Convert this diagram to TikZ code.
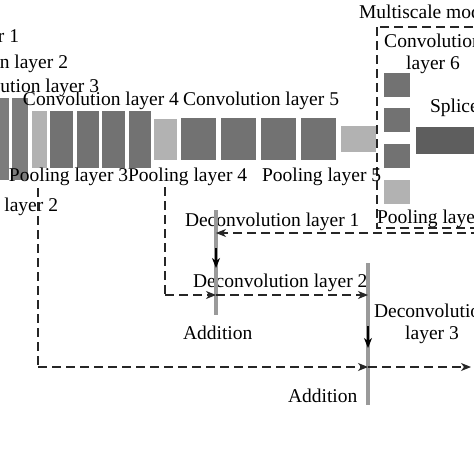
\documentclass[tikz,border=0pt]{standalone}
\usepackage{fontspec}
\setmainfont{Liberation Serif}
\usetikzlibrary{arrows.meta,calc}
\definecolor{convgray}{HTML}{727272}
\definecolor{convgrayb}{HTML}{7C7C7C}
\definecolor{poolgray}{HTML}{B2B2B2}
\definecolor{splicegray}{HTML}{5E5E5E}
\definecolor{bargray}{HTML}{9A9A9A}
\begin{document}
\begin{tikzpicture}[x=1pt,y=-1pt,
  blk/.style={draw=none, inner sep=0, outer sep=0},
  dark/.style={blk, fill=convgray},
  darkb/.style={blk, fill=convgrayb},
  light/.style={blk, fill=poolgray},
  splice/.style={blk, fill=splicegray},
  lbl/.style={inner sep=0, outer sep=0, font=\fontsize{19.5}{22}\selectfont},
  dline/.style={dash pattern=on 9pt off 5pt, line width=1.1pt, black!85},
  darr/.style={dline, -{Stealth[length=10pt,width=8pt,inset=3pt]}},
  sarr/.style={line width=1.2pt, black, -{Stealth[length=10pt,width=8pt,inset=3pt]}},
  bar/.style={fill=bargray, draw=none, inner sep=0, outer sep=0, minimum width=3.5pt}]
\clip (0,0) rectangle (474,474);
\fill[white] (0,0) rectangle (474,474);

% blocks
\node[darkb, minimum width=19pt, minimum height=82pt] (c2a) at (-0.5,139) {};
\node[darkb, minimum width=16pt, minimum height=82pt] (c2b) at (20,139) {};
\node[light, minimum width=15pt, minimum height=57pt] (p2) at (39.5,139.5) {};
\node[dark, minimum width=23pt, minimum height=57pt] (c3a) at (61.5,139.5) {};
\node[dark, minimum width=22pt, minimum height=57pt] (c3b) at (88,139.5) {};
\node[dark, minimum width=23pt, minimum height=57pt] (c3c) at (113.5,139.5) {};
\node[dark, minimum width=22pt, minimum height=57pt] (c3d) at (140,139.5) {};
\node[light, minimum width=23pt, minimum height=41pt] (p3) at (165.5,139.5) {};
\node[dark, minimum width=35pt, minimum height=42pt] (c4a) at (198.5,139) {};
\node[dark, minimum width=35pt, minimum height=42pt] (c4b) at (238.5,139) {};
\node[dark, minimum width=35pt, minimum height=42pt] (c4c) at (278.5,139) {};
\node[dark, minimum width=35pt, minimum height=42pt] (c4d) at (318.5,139) {};
\node[light, minimum width=35pt, minimum height=26pt] (p4) at (358.5,139) {};
\node[dark, minimum width=26pt, minimum height=24pt] (m1) at (397,85) {};
\node[dark, minimum width=26pt, minimum height=24pt] (m2) at (397,120) {};
\node[dark, minimum width=26pt, minimum height=24pt] (m3) at (397,156) {};
\node[light, minimum width=26pt, minimum height=24pt] (m4) at (397,192) {};
\node[splice, minimum width=64pt, minimum height=27pt] (sp) at (448,140.5) {};

% multiscale box
\draw[dline] (377,27) rectangle (490,228);

% labels
\node[lbl, anchor=base east] (t1) at (19,42) {Convolution layer 1};
\node[lbl, anchor=base east] (t2) at (68,68) {Convolution layer 2};
\node[lbl, anchor=base east] (t3) at (99,92) {Convolution layer 3};
\node[lbl, anchor=base west] (t4) at (23,105) {Convolution layer 4};
\node[lbl, anchor=base west] (t5) at (183,105) {Convolution layer 5};
\node[lbl, anchor=base west] (tm) at (359,18) {Multiscale module};
\node[lbl, align=center, anchor=north] (t6) at (433,33.5) {Convolution\\layer 6};
\node[lbl, anchor=base west] (tsp) at (430,112) {Splice};
\node[lbl, anchor=base west] (tp6) at (377,223) {Pooling layer 6};
\node[lbl, anchor=base west] (tp3) at (9,181) {Pooling layer 3};
\node[lbl, anchor=base west] (tp4) at (128,181) {Pooling layer 4};
\node[lbl, anchor=base west] (tp5) at (262,181) {Pooling layer 5};
\node[lbl, anchor=base east] (tp2) at (58,211) {Pooling layer 2};
\node[lbl, anchor=base west] (td1) at (185,226) {Deconvolution layer 1};
\node[lbl, anchor=base west] (td2) at (193,287) {Deconvolution layer 2};
\node[lbl, anchor=base west] (ta1) at (183,339) {Addition};
\node[lbl, align=center, anchor=north] (td3) at (432,303.7) {Deconvolution\\layer 3};
\node[lbl, anchor=base west] (ta2) at (288,402) {Addition};

% deconvolution / addition bars
\node[bar, minimum height=105pt] (g1) at (216,262.5) {};
\node[bar, minimum height=142pt] (g2) at (368,334) {};

% coordinates
\coordinate (inR) at (480,233);
\coordinate (s3) at (165,187);
\coordinate (k3) at (165,295);
\coordinate (s2) at (38,188);
\coordinate (k2) at (38,367);
\coordinate (outR) at (471,367);
\coordinate (a1s) at (216,248);
\coordinate (a1e) at (216,268);
\coordinate (a2s) at (368,326);
\coordinate (a2e) at (368,348);

% connectors
\draw[darr] (inR) -- (g1 |- inR);
\draw[sarr] (a1s) -- (a1e);
\draw[sarr] (a2s) -- (a2e);
\draw[dline] (s3) -- (k3);
\draw[darr] (k3) -- (g1 |- k3);
\draw[darr] (g1 |- k3) -- (g2 |- k3);
\draw[dline] (s2) -- (k2);
\draw[darr] (k2) -- (g2 |- k2);
\draw[darr] (g2 |- k2) -- (outR);
\end{tikzpicture}
\end{document}
